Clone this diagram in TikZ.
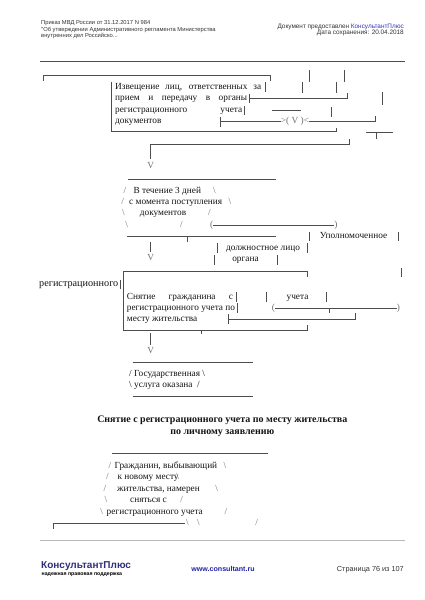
\documentclass[tikz,border=0pt]{standalone}
\usepackage{fontspec}
\setmainfont{Liberation Serif}
\newfontfamily\hsans{Liberation Sans}
\newcommand\bodyf{\fontsize{9.3}{11}\selectfont}
\definecolor{tc}{HTML}{141414}
\definecolor{lc}{HTML}{4D4D4D}
\definecolor{sc}{HTML}{707070}
\definecolor{hc}{HTML}{333333}
\definecolor{kb}{HTML}{3333BB}
\definecolor{kd}{HTML}{2E2E7A}
\definecolor{ku}{HTML}{2222AA}
\begin{document}
\begin{tikzpicture}[x=1pt,y=-1pt,
  txt/.style={anchor=west, inner sep=0pt, font=\bodyf, text=tc, text height=6.5pt, text depth=2pt},
  ctx/.style={txt, anchor=center},
  etx/.style={txt, anchor=east},
  sl/.style={ctx, text=sc},
  ln/.style={draw=lc, line width=0.7pt},
  hd/.style={inner sep=0pt, text=hc, font=\hsans\fontsize{5.8}{7}\selectfont},
  hdr/.style={inner sep=0pt, text=hc, font=\hsans\fontsize{6.4}{7}\selectfont}]
\useasboundingbox[fill=white] (0,0) rectangle (424,600);

% ---------- header ----------
\node[hd,anchor=west] (h1) at (41,23.3) {Приказ МВД России от 31.12.2017 N 984};
\node[hd,anchor=west] (h2) at (41,29.5) {"Об утверждении Административного регламента Министерства};
\node[hd,anchor=west] (h3) at (41,35.5) {внутренних дел Российско...};
\node[hdr,anchor=east] (h4) at (404,26.7) {Документ предоставлен \textcolor{kb}{КонсультантПлюс}};
\node[hdr,anchor=east] (h5) at (404,33.3) {Дата сохранения: 20.04.2018};
\draw[draw=lc, line width=1pt] (40,61) -- (405,61);

% ---------- block 1 ----------
\draw[ln] (43,80.5) -- (43,75.7) -- (270,75.7) -- (270,80.5);
\draw[ln] (309,70) -- (309,82);
\draw[ln] (344,70) -- (344,82);
\draw[ln] (111,82) -- (111,131.7) -- (336.7,131.7) -- (336.7,128);
\node[txt] (b1a) at (115,87) {\makebox[146pt][s]{Извещение лиц, ответственных за}};
\node[txt] (b1b) at (115,98.5) {\makebox[132pt][s]{прием и передачу в органы}};
\node[txt] (b1c) at (115,110) {\makebox[127pt][s]{регистрационного учета}};
\node[txt] (b1d) at (115,121.5) {документов};
\draw[ln] (265,82) -- (265,91.5);
\draw[ln] (302,82) -- (302,93);
\draw[ln] (336.7,82) -- (336.7,93);
\draw[ln] (249.3,93.5) -- (249.3,102.5);
\draw[ln] (249.3,98) -- (347.7,98) -- (347.7,92.5);
\draw[ln] (382.3,92.3) -- (382.3,105);
\draw[ln] (244.3,106) -- (244.3,115);
\draw[ln] (272.3,110.7) -- (300.7,110.7);
\draw[ln] (331,106.7) -- (331,116.7);
\draw[ln] (220.7,117) -- (220.7,126.5);
\node[sl] (vv1) at (295,121.7) {>( V )<};
\draw[ln] (220.7,121.7) -- (vv1.west);
\draw[ln] (vv1.east) -- (375.7,121.7) -- (375.7,116);
\draw[ln] (366,132) -- (393,132);
\draw[ln] (376.5,132) -- (376.5,138.5);
\draw[ln] (150.7,159) -- (150.7,144.3) -- (349,144.3) -- (349,139.3);
\node[sl] (ar1) at (150.7,166.5) {V};

% ---------- hexagon 1 ----------
\draw[ln] (127.7,179.2) -- (276,179.2);
\node[sl] (s1a) at (125,191) {/};
\node[txt] (x1a) at (133.3,191) {В течение 3 дней};
\node[sl] (s1b) at (214.3,191) {\textbackslash};
\node[sl] (s2a) at (122.7,202.3) {/};
\node[txt] (x1b) at (129,202.3) {с момента поступления};
\node[sl] (s2b) at (230,202.3) {\textbackslash};
\node[sl] (s3a) at (123.3,213.7) {\textbackslash};
\node[ctx] (x1c) at (163,213.7) {документов};
\node[sl] (s3b) at (209.5,213.7) {/};
\node[sl] (s4a) at (126.7,225) {\textbackslash};
\node[sl] (s4b) at (181.3,225) {/};
\node[sl] (p1a) at (211.7,225) {(};
\node[sl] (p1b) at (336,225) {)};
\draw[ln] (p1a.east) -- (p1b.west);
\draw[ln] (127,236.6) -- (276,236.6);
\draw[ln] (187.3,236.6) -- (187.3,241.7);

\draw[ln] (309.3,231.7) -- (309.3,241.2);
\draw[ln] (398,231.7) -- (398,241.2);
\node[ctx] (up) at (353.5,236.5) {Уполномоченное};
\draw[ln] (150.7,242) -- (150.7,251.7);
\node[sl] (ar2) at (150.7,258.3) {V};
\draw[ln] (217.5,243.3) -- (217.5,253.3);
\draw[ln] (307.3,243.3) -- (307.3,253.3);
\node[ctx] (dl) at (263,248.3) {должностное лицо};
\draw[ln] (214.7,255) -- (214.7,264.5);
\draw[ln] (277,255) -- (277,264.5);
\node[ctx] (org) at (245.5,259.5) {органа};
\draw[ln] (401,268) -- (401,277);

% ---------- block 2 ----------
\draw[ln] (123.3,330) -- (123.3,271) -- (307.3,271) -- (307.3,276.7);
\node[etx, font=\fontsize{10.2}{11}\selectfont] (rg) at (118.5,284) {регистрационного};
\draw[ln] (120.7,279.5) -- (120.7,289);
\node[txt] (b2a) at (126.7,297) {\makebox[106pt][s]{Снятие гражданина с}};
\draw[ln] (236.7,292) -- (236.7,301.5);
\draw[ln] (266.7,292) -- (266.7,301.5);
\node[ctx] (uc) at (297.5,297) {учета};
\draw[ln] (326,292) -- (326,301.5);
\node[txt] (b2b) at (126.7,308) {регистрационного учета по};
\draw[ln] (237.3,303.3) -- (237.3,312.8);
\node[sl] (p2a) at (273.3,308) {(};
\node[sl] (p2b) at (398.3,308) {)};
\draw[ln] (p2a.east) -- (p2b.west);
\draw[ln] (329.3,308) -- (329.3,313);
\node[txt] (b2c) at (126.7,319) {месту жительства};
\draw[ln] (228.3,314.3) -- (228.3,323.8);
\draw[ln] (228.3,319) -- (355,319) -- (355,313);
\draw[ln] (123.3,330) -- (307.3,330) -- (307.3,325);
\draw[ln] (201.7,330) -- (201.7,334);
\draw[ln] (150.7,333) -- (150.7,345);
\node[sl] (ar3) at (150.7,351.7) {V};

% ---------- hexagon 2 ----------
\draw[ln] (132.7,362.7) -- (252.7,362.7);
\node[txt] (g1) at (129,374.5) {/ Государственная \textbackslash};
\node[txt] (g2) at (129,385.5) {\textbackslash\ услуга оказана\ \ /};
\draw[ln] (132.7,396.7) -- (252.7,396.7);

% ---------- title ----------
\node[ctx, font=\fontsize{10}{12}\selectfont\bfseries] (tt1) at (222.3,420.5) {Снятие с регистрационного учета по месту жительства};
\node[ctx, font=\fontsize{10}{12}\selectfont\bfseries] (tt2) at (222.3,432.5) {по личному заявлению};

% ---------- hexagon 3 ----------
\draw[ln] (111.7,453.3) -- (268.3,453.3);
\node[sl] (q1a) at (110,466) {/};
\node[txt] (y1) at (114.5,466) {Гражданин, выбывающий};
\node[sl] (q1b) at (225,466) {\textbackslash};
\node[sl] (q2a) at (107.3,477.5) {/};
\node[txt] (y2) at (117.3,477.5) {к новому месту};
\node[sl] (q2b) at (177.7,477.5) {\textbackslash};
\node[sl] (q3a) at (105,489) {/};
\node[txt] (y3) at (117,489) {жительства, намерен};
\node[sl] (q3b) at (216.7,489) {\textbackslash};
\node[sl] (q4a) at (106,500.5) {\textbackslash};
\node[txt] (y4) at (130,500.5) {сняться с};
\node[sl] (q4b) at (181.7,500.5) {/};
\node[sl] (q5a) at (101.7,512) {\textbackslash};
\node[txt] (y5) at (106.5,512) {регистрационного учета};
\node[sl] (q5b) at (226,512) {/};
\draw[ln] (53.3,529) -- (53.3,523.5) -- (185,523.5);
\node[sl] (q6a) at (187.5,523.5) {\textbackslash};
\node[sl] (q6b) at (198.5,523.5) {\textbackslash};
\node[sl] (q6c) at (256.7,523.5) {/};

% ---------- footer ----------
\draw[draw=lc!40, line width=0.8pt] (40,540) -- (405,540);
\node[inner sep=0pt, anchor=west, text=kd, font=\hsans\bfseries\fontsize{10}{10}\selectfont] (f1) at (41,566) {КонсультантПлюс};
\node[inner sep=0pt, anchor=west, text=black, font=\hsans\bfseries\fontsize{5.2}{6}\selectfont] (f2) at (41.5,575) {надежная правовая поддержка};
\node[inner sep=0pt, anchor=center, text=ku, font=\hsans\bfseries\fontsize{7.1}{8}\selectfont] (f3) at (223,569.3) {www.consultant.ru};
\node[inner sep=0pt, anchor=east, text=hc, font=\hsans\fontsize{7.3}{8}\selectfont] (f4) at (404,569.3) {Страница 76 из 107};
\end{tikzpicture}
\end{document}
